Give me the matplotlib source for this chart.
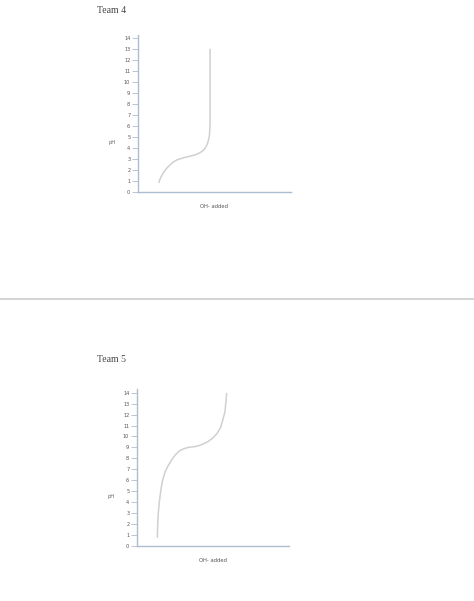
import matplotlib.pyplot as plt
from matplotlib.lines import Line2D

# pH readings per team, x = amount of OH- added (arbitrary units 0..10)
team4_oh = [1.37, 1.47, 1.65, 1.86, 2.09, 2.29, 2.53, 2.75, 2.96, 3.40, 3.84,
            4.05, 4.27, 4.41, 4.53, 4.61, 4.66, 4.69, 4.71, 4.71]
team4_ph = [0.85, 1.26, 1.71, 2.12, 2.44, 2.69, 2.89, 3.00, 3.09, 3.24, 3.41,
            3.56, 3.77, 4.02, 4.35, 4.72, 5.08, 5.55, 6.19, 13.0]

team5_oh = [1.34, 1.36, 1.40, 1.47, 1.56, 1.68, 1.84, 2.04, 2.28, 2.53, 2.83,
            3.10, 3.38, 3.82, 4.08, 4.36, 4.70, 5.02, 5.28, 5.51, 5.64, 5.79, 5.90]
team5_ph = [0.77, 1.87, 3.00, 4.00, 5.00, 5.97, 6.72, 7.30, 7.85, 8.33, 8.72,
            8.88, 9.00, 9.07, 9.16, 9.31, 9.55, 9.90, 10.30, 10.84, 11.50, 12.27, 13.93]

ph_ticks = list(range(0, 15))

axis_col = "#aebdcd"
curve_col = "#d0d0d0"
text_col = "#555555"

fig = plt.figure(figsize=(4.74, 6.01), dpi=100)


def draw_panel(rect, oh, ph, title, title_y):
    ax = fig.add_axes(rect)
    ax.plot(oh, ph, color=curve_col, lw=1.1, solid_capstyle="round",
            solid_joinstyle="round")
    ax.set_xlim(0, 10)
    ax.set_ylim(0, 14.3)
    ax.set_yticks(ph_ticks)
    ax.set_xticks([])
    for s in ["top", "right"]:
        ax.spines[s].set_visible(False)
    for s in ["left", "bottom"]:
        ax.spines[s].set_color(axis_col)
        ax.spines[s].set_linewidth(1.0)
    ax.tick_params(axis="y", direction="out", length=4.0, width=0.6,
                   colors=axis_col, labelcolor=text_col, labelsize=3.6, pad=1.5)
    ax.set_ylabel("pH", rotation=0, fontsize=3.6, color=text_col, labelpad=6)
    ax.yaxis.set_label_coords(-0.17, 0.3)
    ax.set_xlabel("OH- added", fontsize=3.8, color=text_col, labelpad=9)
    fig.text(0.205, title_y, title, fontsize=7, family="Liberation Serif",
             color="#444444", va="center", ha="left")
    return ax


draw_panel([0.2911, 0.681, 0.3228, 0.2607], team4_oh, team4_ph, "Team 4", 0.982)
draw_panel([0.289, 0.092, 0.3207, 0.260], team5_oh, team5_ph, "Team 5", 0.401)

# separator between the two slides
fig.add_artist(Line2D([0, 1], [0.5025, 0.5025], color="#d4d4d4", lw=1.4,
                      transform=fig.transFigure))

fig.savefig("out.png", dpi=100)
